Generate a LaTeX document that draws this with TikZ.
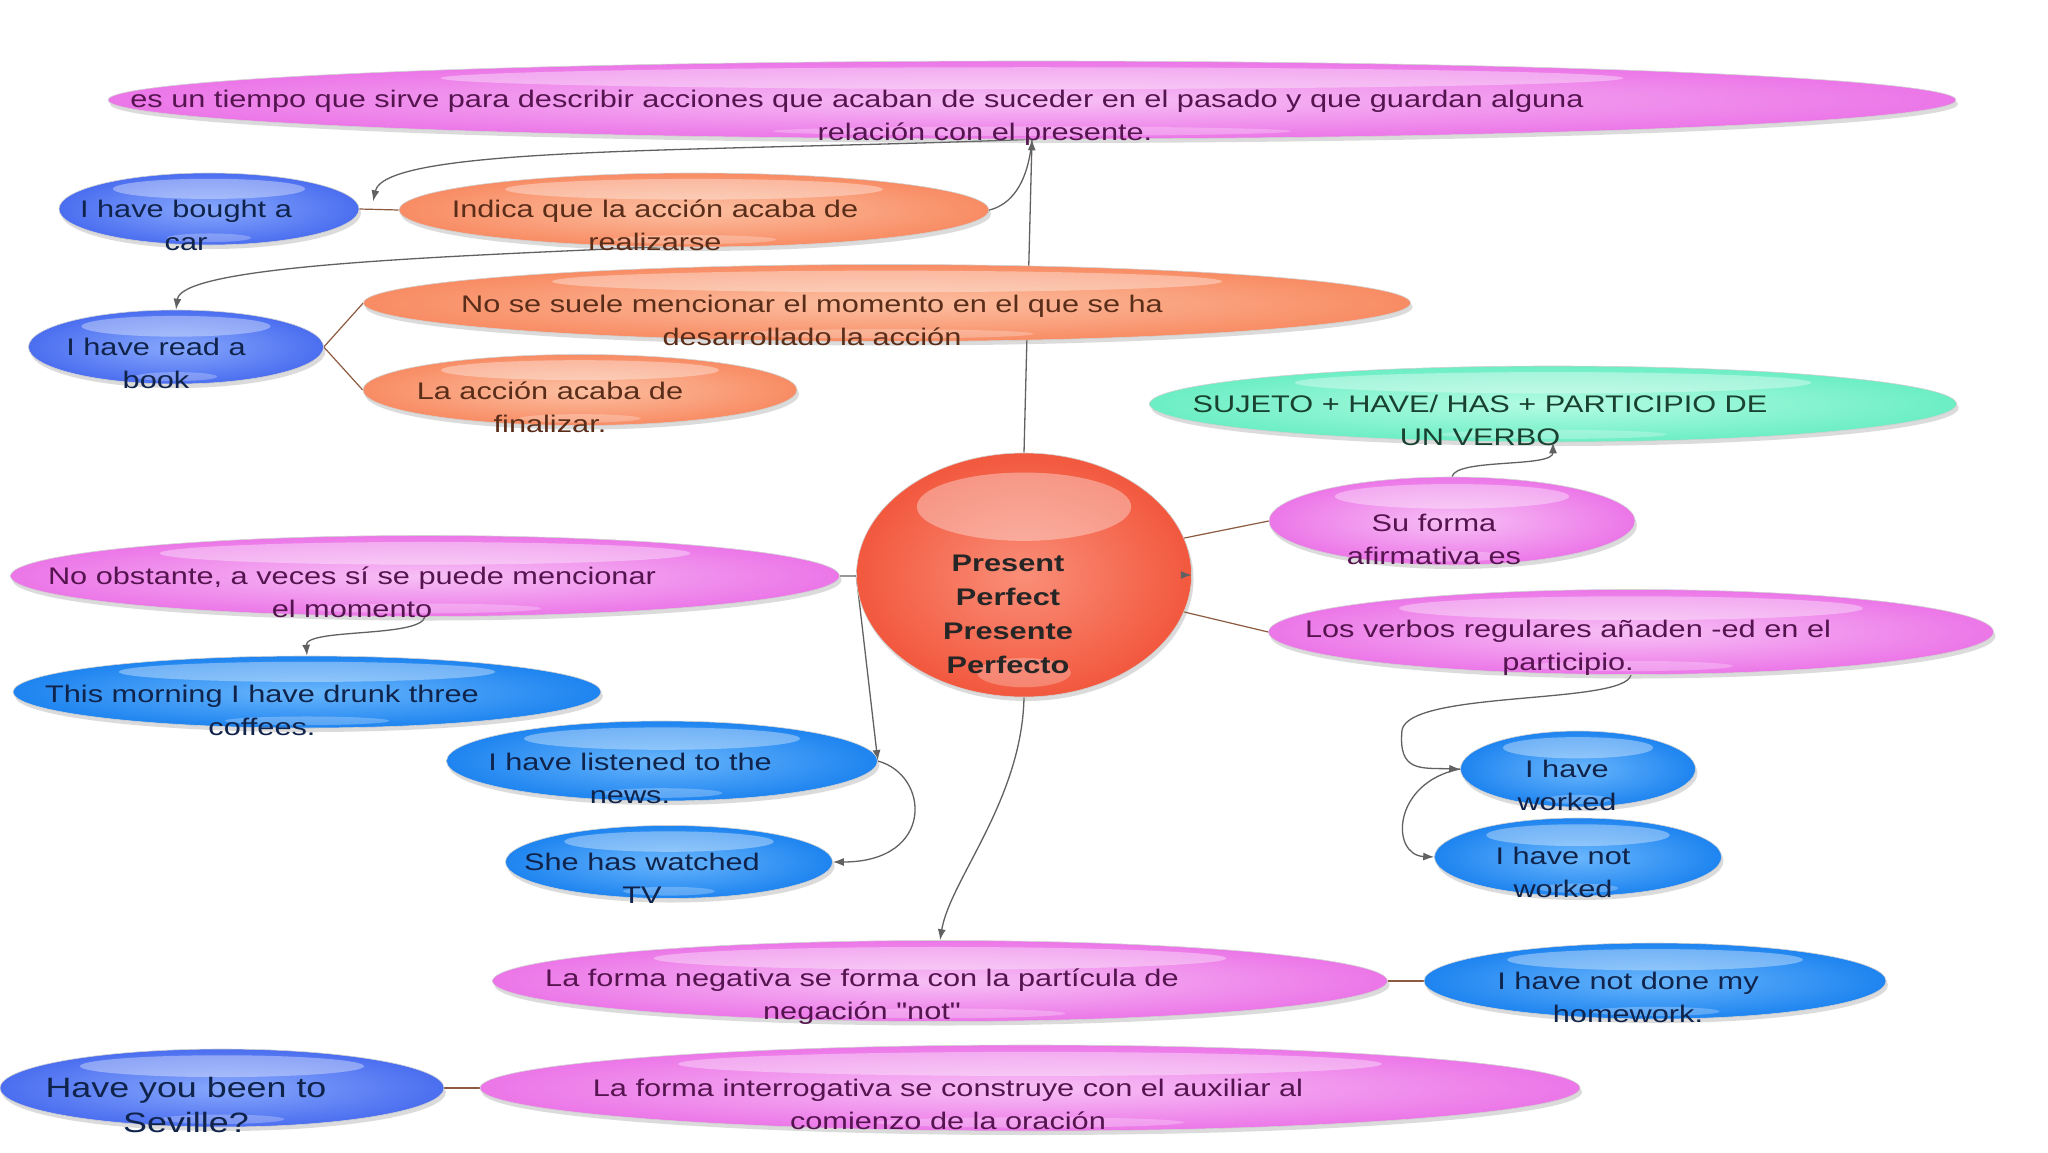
\documentclass[tikz,border=0pt]{standalone}
\usepackage{fontspec}
\setmainfont[FakeStretch=1.28,Ligatures=TeXOff]{Liberation Sans}
\usepackage{tikz}
\usetikzlibrary{arrows,arrows.meta,shapes,shadows,calc}
\pgfdeclarelayer{background}
\pgfsetlayers{background,main}
\definecolor{pinkD}{RGB}{236,118,232}
\definecolor{pinkL}{RGB}{247,192,245}
\definecolor{salD}{RGB}{248,140,100}
\definecolor{salL}{RGB}{252,192,162}
\definecolor{blueD}{RGB}{30,132,240}
\definecolor{blueL}{RGB}{105,182,252}
\definecolor{violD}{RGB}{75,110,240}
\definecolor{violL}{RGB}{135,168,252}
\definecolor{mintD}{RGB}{108,238,196}
\definecolor{mintL}{RGB}{180,252,228}
\definecolor{ballD}{RGB}{242,88,62}
\definecolor{ballL}{RGB}{250,142,120}
\definecolor{pinkT}{RGB}{85,20,80}
\definecolor{salT}{RGB}{90,45,25}
\definecolor{blueT}{RGB}{15,35,75}
\definecolor{mintT}{RGB}{25,65,48}
\definecolor{twigC}{RGB}{140,90,62}
\tikzstyle{bubble}=[ellipse, draw=black!18
,line width=0.6pt
,inner sep=0pt
,drop shadow={shadow xshift=2pt,shadow yshift=-4pt,opacity=0.28}
,path picture={
  \fill[white,opacity=0.35] let \p1=(path picture bounding box.north east),
    \p2=(path picture bounding box.south west) in
    ({0.5*(\x1+\x2)},{\y1-0.22*(\y1-\y2)}) ellipse ({0.32*(\x1-\x2)} and {0.14*(\y1-\y2)});
  \fill[white,opacity=0.25] let \p1=(path picture bounding box.north east),
    \p2=(path picture bounding box.south west) in
    ({0.5*(\x1+\x2)},{\y2+0.1*(\y1-\y2)}) ellipse ({0.14*(\x1-\x2)} and {0.06*(\y1-\y2)});
  }
]
\tikzstyle{pinkb}=[bubble, inner color=pinkL, outer color=pinkD]
\tikzstyle{salb}=[bubble, inner color=salL, outer color=salD]
\tikzstyle{blueb}=[bubble, inner color=blueL, outer color=blueD]
\tikzstyle{violb}=[bubble, inner color=violL, outer color=violD]
\tikzstyle{mintb}=[bubble, inner color=mintL, outer color=mintD]
\tikzstyle{ballb}=[bubble, inner color=ballL, outer color=ballD]
\tikzstyle{txt}=[align=center, inner sep=0pt, font=\fontsize{24}{33}\selectfont]
\tikzstyle{link}=[draw=black!62, line width=1.3pt]
\tikzstyle{arr}=[link, -{Latex[length=11pt,width=8pt]}]
\tikzstyle{twig}=[draw=twigC, line width=1.2pt]

\begin{document}
\begin{tikzpicture}[x=1pt,y=-1pt]
    \useasboundingbox (0,0) rectangle (2048,1152);
    \begin{pgfonlayer}{background}
        \fill[white] (0,0) rectangle (2048,1152);
    \end{pgfonlayer}
    % the bubbles
    \node[pinkb, minimum width=1848, minimum height=78] (def) at (1032,100) {};
    \node[violb, minimum width=300, minimum height=72] (bought) at (209,209) {};
    \node[salb, minimum width=590, minimum height=74] (indica) at (694,210) {};
    \node[violb, minimum width=295, minimum height=74] (read) at (176,347) {};
    \node[salb, minimum width=1047, minimum height=77] (suele) at (887,303) {};
    \node[salb, minimum width=434, minimum height=71] (accion) at (580,390) {};
    \node[mintb, minimum width=807, minimum height=76] (sujeto) at (1553,404) {};
    \node[pinkb, minimum width=366, minimum height=88] (suforma) at (1452,521) {};
    \node[pinkb, minimum width=725, minimum height=85] (verbos) at (1631,632) {};
    \node[pinkb, minimum width=829, minimum height=81] (noobst) at (425,576) {};
    \node[blueb, minimum width=588, minimum height=72] (morning) at (307,692) {};
    \node[blueb, minimum width=431, minimum height=80] (listen) at (662,761) {};
    \node[blueb, minimum width=327, minimum height=73] (watch) at (669,862) {};
    \node[blueb, minimum width=235, minimum height=76] (worked) at (1578,769) {};
    \node[blueb, minimum width=287, minimum height=78] (notworked) at (1578,857) {};
    \node[pinkb, minimum width=895, minimum height=81] (neg) at (940,981) {};
    \node[blueb, minimum width=462, minimum height=76] (home) at (1655,981) {};
    \node[violb, minimum width=444, minimum height=78] (seville) at (222,1088) {};
    \node[pinkb, minimum width=1100, minimum height=86] (inter) at (1030,1088) {};
    \node[ballb, minimum width=335, minimum height=244] (ball) at (1024,575) {};

    % the connectors, behind the bubbles
    \begin{pgfonlayer}{background}
        \coordinate (jb) at ($(bought.east)!0.35!(indica.west)$);
        \path[arr] (ball.north) -- (def.south);
        \path[arr] (def.south) .. controls (700,152) and (385,146) .. ([yshift=8pt]jb);
        \path[link] (def.south) .. controls (1028,185) and (1010,205) .. (indica.east);
        \path[arr] (indica.east) .. controls (965,258) and (185,240) .. (read.north);
        \foreach \a/\b in {bought.east/indica.west, read.east/suele.west, read.east/accion.west,
                neg.east/home.west, seville.east/inter.west, ball.13/suforma.west, ball.-13/verbos.west}
            \path[twig] (\a) -- (\b);
        \path[arr] (noobst.east) -- (ball.east);
        \path[arr] (ball.west) -- (listen.east);
        \path[arr] (listen.east) .. controls (930,775) and (935,862) .. (watch.east);
        \path[arr] (noobst.south) .. controls (420,638) and (305,628) .. (morning.north);
        \path[arr] (ball.south) .. controls (1022,800) and (950,880) .. (neg.north);
        \path[arr] (suforma.north) .. controls (1456,458) and (1553,468) .. (sujeto.south);
        \path[arr] (verbos.south) .. controls (1625,705) and (1410,690) .. (1402,730)
            .. controls (1398,772) and (1420,768) .. (worked.west);
        \path[arr] (worked.west) .. controls (1392,782) and (1390,855) .. (notworked.west);
    \end{pgfonlayer}
    \path[arr] ([xshift=-8pt]ball.east) -- (ball.east);

    % the texts
    \node[txt, text=pinkT] (defT) at (857,118) {es un tiempo que sirve para describir acciones que acaban de suceder en el pasado y que guardan alguna\\\hspace*{256pt}relación con el presente.};
    \node[txt, text=blueT] (boughtT) at (186,225) {I have bought a\\car};
    \node[txt, text=salT] (indicaT) at (655,225) {Indica que la acción acaba de\\realizarse};
    \node[txt, text=blueT] (readT) at (156,363) {I have read a\\book};
    \node[txt, text=salT] (sueleT) at (812,320) {No se suele mencionar el momento en el que se ha\\desarrollado la acción};
    \node[txt, text=salT] (accionT) at (550,407) {La acción acaba de\\finalizar.};
    \node[txt, text=mintT] (sujetoT) at (1480,420) {SUJETO + HAVE/ HAS + PARTICIPIO DE\\UN VERBO};
    \node[txt, text=black!85, font=\bfseries\fontsize{24}{34}\selectfont] (ballT) at (1008,614) {Present\\Perfect\\Presente\\Perfecto};
    \node[txt, text=pinkT] (suformaT) at (1434,539) {Su forma\\afirmativa es};
    \node[txt, text=pinkT] (verbosT) at (1568,648) {Los verbos regulares añaden -ed en el\\participio.};
    \node[txt, text=pinkT] (noobstT) at (352,592) {No obstante, a veces sí se puede mencionar\\el momento};
    \node[txt, text=blueT] (morningT) at (262,710) {This morning I have drunk three\\coffees.};
    \node[txt, text=blueT] (listenT) at (630,778) {I have listened to the\\news.};
    \node[txt, text=blueT] (watchT) at (642,878) {She has watched\\TV};
    \node[txt, text=blueT] (workedT) at (1567,785) {I have\\worked};
    \node[txt, text=blueT] (notworkedT) at (1563,872) {I have not\\worked};
    \node[txt, text=pinkT] (negT) at (862,997) {La forma negativa se forma con la partícula de\\negación "not"};
    \node[txt, text=blueT] (homeT) at (1628,997) {I have not done my\\homework.};
    \node[txt, text=blueT, font=\fontsize{28}{35}\selectfont] (sevilleT) at (186,1105) {Have you been to\\Seville?};
    \node[txt, text=pinkT] (interT) at (948,1104) {La forma interrogativa se construye con el auxiliar al\\comienzo de la oración};
\end{tikzpicture}
\end{document}
